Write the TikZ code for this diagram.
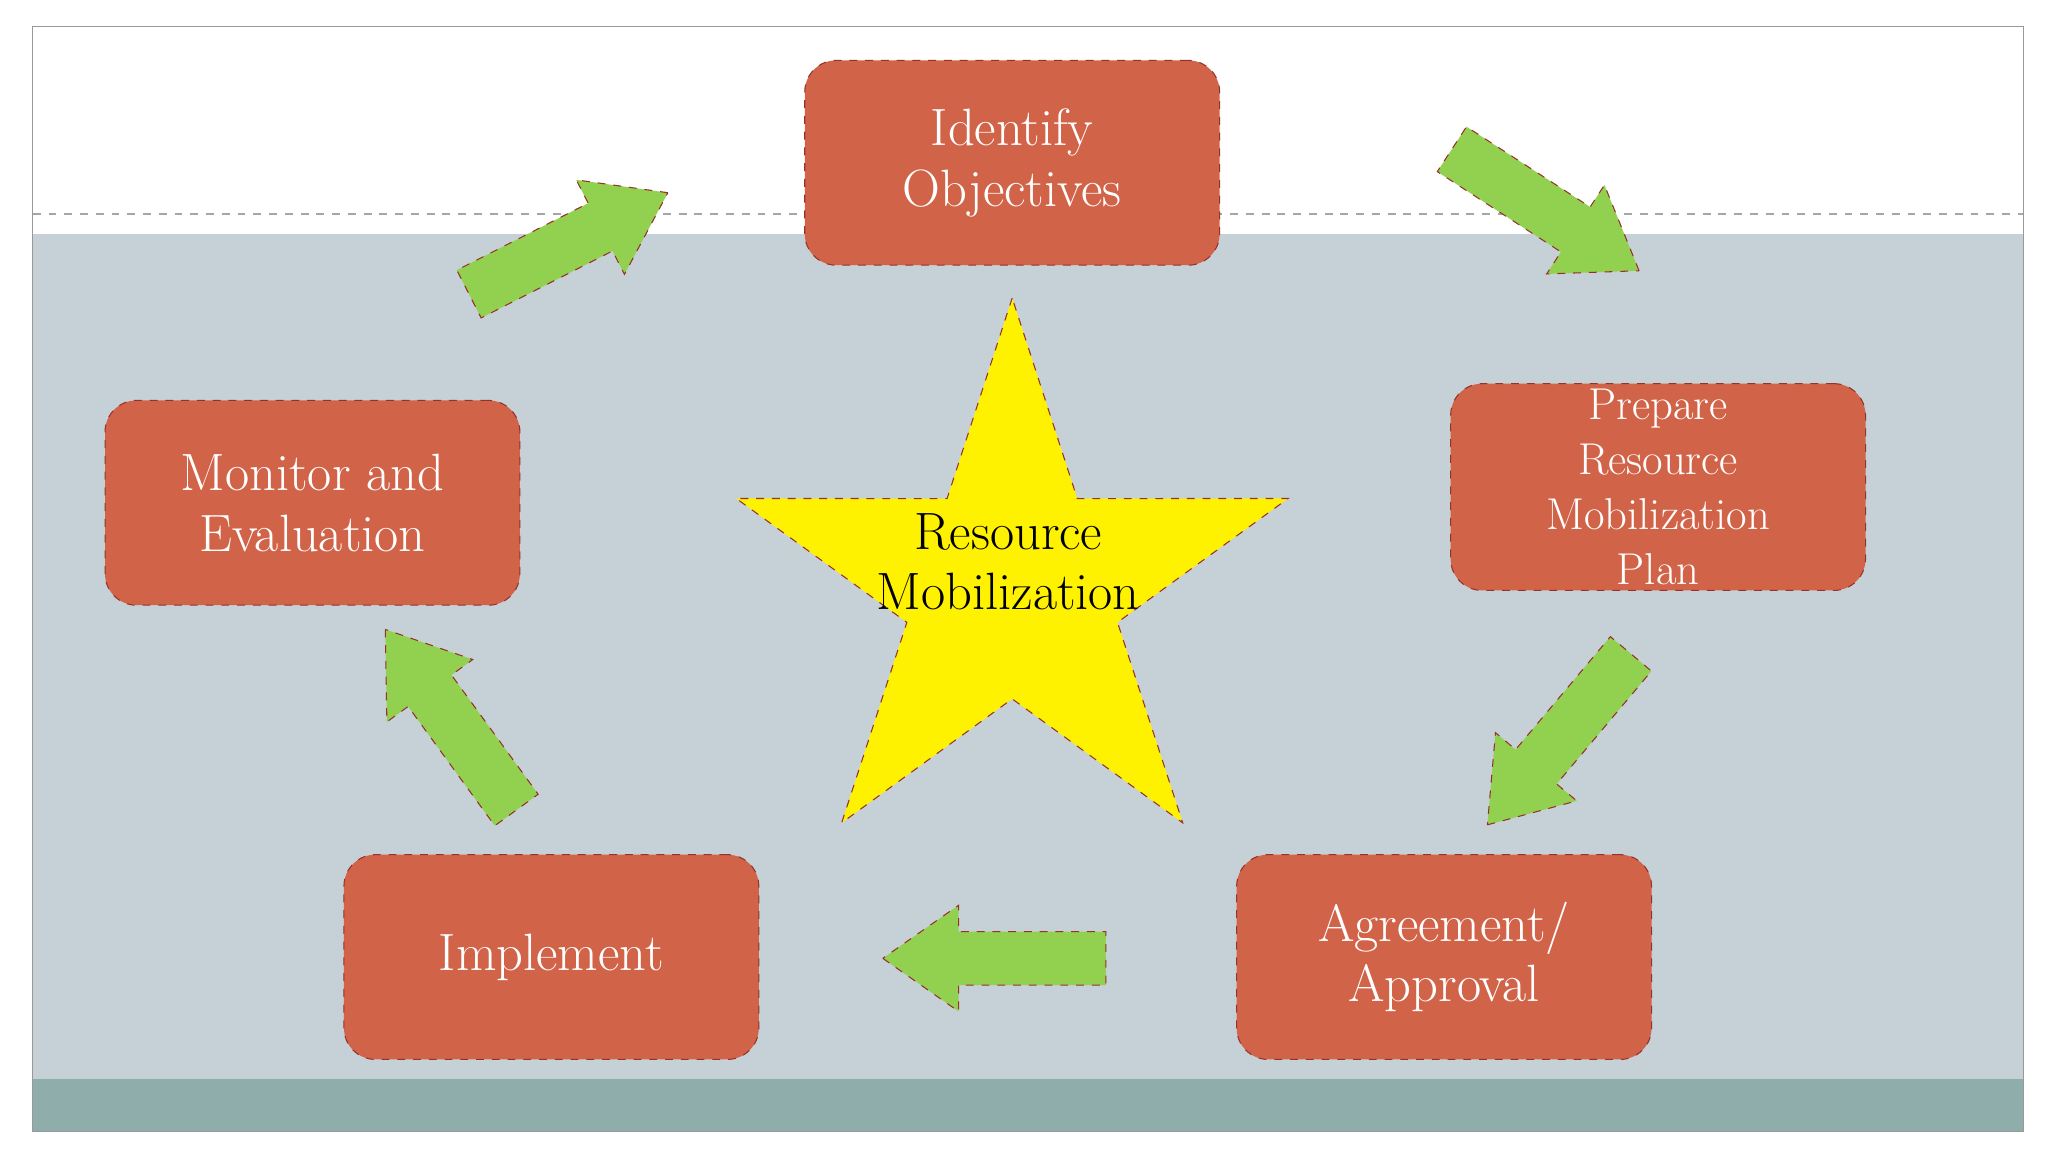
\documentclass[tikz,border=0pt]{standalone}
\usepackage{tikz}
\usetikzlibrary{shapes.geometric, shapes.arrows}
\definecolor{boxred}{RGB}{209,99,73}
\definecolor{edgered}{RGB}{150,50,40}
\definecolor{slide}{RGB}{197,209,215}
\definecolor{band}{RGB}{143,173,170}
\definecolor{leaf}{RGB}{146,208,80}
\begin{document}
\begin{tikzpicture}[
  x=0.5pt, y=-0.5pt,
  stage/.style={draw=edgered, dashed, fill=boxred, rounded corners=12pt, minimum width=158pt, minimum height=78pt, text=white, font=\fontsize{20}{23}\selectfont, align=center, inner sep=2pt},
  flow/.style={single arrow, draw=edgered, dashed, fill=leaf, inner sep=10pt, single arrow head extend=10pt, single arrow tip angle=70, minimum height=85pt}
]
\useasboundingbox (0,0) rectangle (1560,877);
% slide background
\fill[white] (25,20) rectangle (1541,178);
\fill[slide] (25,178) rectangle (1541,822);
\fill[band] (25,822) rectangle (1541,862);
\draw[gray!70, dashed] (25,163) -- (1541,163);
\draw[gray!80] (25,20) rectangle (1541,862);

% steps of the cycle
\node[stage] (identify) at (771,124) {Identify\\Objectives};
\node[stage, font=\fontsize{17}{21}\selectfont] (prepare) at (1263,371) {Prepare\\Resource\\Mobilization\\Plan};
\node[stage] (agree) at (1100,729) {Agreement/\\Approval};
\node[stage] (implement) at (420,729) {Implement};
\node[stage] (monitor) at (238,383) {Monitor and\\Evaluation};

% centre
\node[star, star points=5, star point ratio=2.62, draw=edgered, dashed, fill=yellow, minimum size=221pt, inner sep=0pt] (star) at (771,448) {};
\node[font=\fontsize{20}{23}\selectfont, align=center] (core) at (768,428) {Resource\\Mobilization};

% arrows between steps
\node[flow, rotate=27] (a1) at (420,192) {};
\node[flow, rotate=-33] (a2) at (1165,152) {};
\node[flow, rotate=-130] (a3) at (1197,552) {};
\node[flow, rotate=180] (a4) at (772,730) {};
\node[flow, rotate=126] (a5) at (352,560) {};
\end{tikzpicture}
\end{document}
